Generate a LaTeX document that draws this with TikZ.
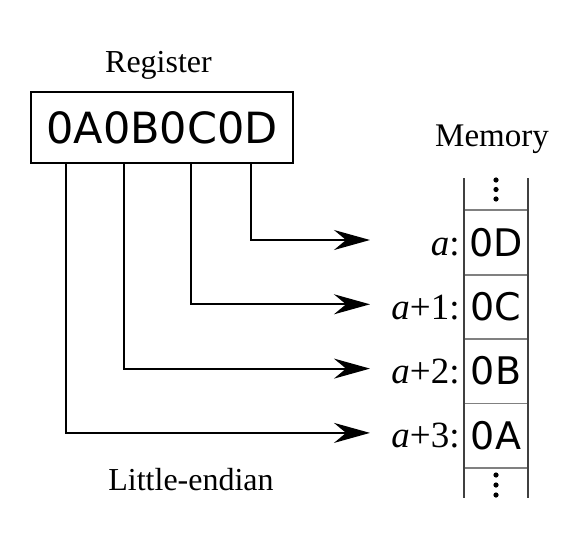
\documentclass[tikz,border=0pt]{standalone}
\usepackage{fontspec}
\setmainfont{Liberation Serif}
\newfontfamily\hexfont{DejaVu Sans}
\usetikzlibrary{arrows.meta}

\begin{document}
\begin{tikzpicture}
  [
    x=0.5pt, y=-0.5pt,
    >={Stealth[length=18pt,width=10pt,inset=6pt]},
    regbox/.style = {draw, line width=1pt, minimum width=131pt, minimum height=35.5pt, inner sep=0pt, font=\hexfont\fontsize{21.5}{25}\selectfont},
    cell/.style   = {minimum width=32pt, minimum height=32pt, inner sep=0pt, font=\hexfont\fontsize{19}{23}\selectfont},
    addr/.style   = {anchor=base east, inner sep=1pt, font=\fontsize{18.5}{22}\selectfont},
    title/.style  = {anchor=base, inner sep=0pt, font=\fontsize{16}{19}\selectfont},
    wire/.style   = {line width=1pt},
    dot/.style    = {circle, fill=black, inner sep=0pt, minimum size=2.6pt},
  ]
\useasboundingbox (0,0) rectangle (576,534);

%Register box and titles
\node[regbox] (reg) at (162,127.5) {0A0B0C0D};
\node[title] (regtitle) at (158.5,73) {Register};
\node[title, font=\fontsize{16.5}{19}\selectfont] (memtitle) at (492,147) {Memory};
\node[title] (endian) at (191,490) {Little-endian};

%Memory cells with their addresses
\foreach [count=\i] \j/\a in {0D/{\textit{a}:},0C/{\textit{a}+1:},0B/{\textit{a}+2:},0A/{\textit{a}+3:}}
{
\node[cell] (c\i) at (496,{242.5+(\i-1)*64.3}) {\j};
\node[addr] (a\i) at (462,{255+(\i-1)*64.3}) {\a};
\coordinate (tip\i) at (370,{240+(\i-1)*64.3});
}

%Cell borders
\draw[gray, line width=0.8pt] (c1.north west) -- (c1.north east);
\foreach \i in {1,...,4}
  \draw[gray, line width=0.8pt] (c\i.south west) -- (c\i.south east);
\draw[darkgray, line width=0.8pt] (464,178) -- (464,498);
\draw[darkgray, line width=0.8pt] (528,178) -- (528,498);

%Dots above and below
\foreach \y in {180,189.5,199,475,485,495}
  \node[dot] at (496,\y) {};

%Connectors from the register to memory
\foreach \i/\dx in {1/110.5,2/80.5,3/47,4/18}
  \draw[wire,->] ([xshift=\dx pt]reg.south west) |- (tip\i);
\end{tikzpicture}
\end{document}
